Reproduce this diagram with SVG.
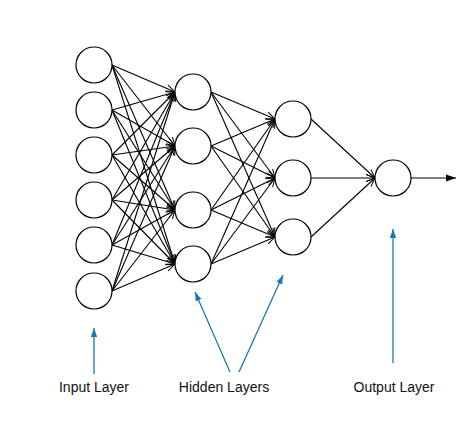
<svg xmlns="http://www.w3.org/2000/svg" width="474" height="421" viewBox="0 0 474 421">
<defs>
<marker id="open" viewBox="0 0 10 10" refX="10" refY="5" markerWidth="9" markerHeight="9" markerUnits="userSpaceOnUse" orient="auto">
<path d="M0,1 L10,5 L0,9" fill="none" stroke="#000" stroke-width="1.1"/>
</marker>
<marker id="solid" viewBox="0 0 10 10" refX="10" refY="5" markerWidth="10" markerHeight="10" markerUnits="userSpaceOnUse" orient="auto">
<path d="M0,1.5 L10,5 L0,8.5 Z" fill="#000"/>
</marker>
<marker id="blue" viewBox="0 0 10 10" refX="10" refY="5" markerWidth="9" markerHeight="9" markerUnits="userSpaceOnUse" orient="auto">
<path d="M0,1.5 L10,5 L0,8.5 Z" fill="#1b78b2"/>
</marker>
</defs>
<style>
.n{fill:#fff;stroke:#000;stroke-width:1.2}
.c line{stroke:#000;stroke-width:1.1;marker-end:url(#open)}
.b line{stroke:#1b78b2;stroke-width:1.3;marker-end:url(#blue)}
text{font-family:"Liberation Sans",Arial,sans-serif;font-size:14px;fill:#111;text-anchor:middle}
</style>
<rect width="474" height="421" fill="#fff"/>
<g id="connectors" class="c">
<!-- input to hidden1 -->
<line x1="112" y1="65" x2="175" y2="92"/><line x1="112" y1="65" x2="175" y2="146"/><line x1="112" y1="65" x2="175" y2="210"/><line x1="112" y1="65" x2="175" y2="264"/>
<line x1="112" y1="110" x2="175" y2="92"/><line x1="112" y1="110" x2="175" y2="146"/><line x1="112" y1="110" x2="175" y2="210"/><line x1="112" y1="110" x2="175" y2="264"/>
<line x1="112" y1="155" x2="175" y2="92"/><line x1="112" y1="155" x2="175" y2="146"/><line x1="112" y1="155" x2="175" y2="210"/><line x1="112" y1="155" x2="175" y2="264"/>
<line x1="112" y1="200" x2="175" y2="92"/><line x1="112" y1="200" x2="175" y2="146"/><line x1="112" y1="200" x2="175" y2="210"/><line x1="112" y1="200" x2="175" y2="264"/>
<line x1="112" y1="245" x2="175" y2="92"/><line x1="112" y1="245" x2="175" y2="146"/><line x1="112" y1="245" x2="175" y2="210"/><line x1="112" y1="245" x2="175" y2="264"/>
<line x1="112" y1="291" x2="175" y2="92"/><line x1="112" y1="291" x2="175" y2="146"/><line x1="112" y1="291" x2="175" y2="210"/><line x1="112" y1="291" x2="175" y2="264"/>
<!-- hidden1 to hidden2 -->
<line x1="211" y1="92" x2="275" y2="119"/><line x1="211" y1="92" x2="275" y2="178"/><line x1="211" y1="92" x2="275" y2="237"/>
<line x1="211" y1="146" x2="275" y2="119"/><line x1="211" y1="146" x2="275" y2="178"/><line x1="211" y1="146" x2="275" y2="237"/>
<line x1="211" y1="210" x2="275" y2="119"/><line x1="211" y1="210" x2="275" y2="178"/><line x1="211" y1="210" x2="275" y2="237"/>
<line x1="211" y1="264" x2="275" y2="119"/><line x1="211" y1="264" x2="275" y2="178"/><line x1="211" y1="264" x2="275" y2="237"/>
<!-- hidden2 to output -->
<line x1="311" y1="119" x2="375" y2="178"/><line x1="311" y1="178" x2="375" y2="178"/><line x1="311" y1="237" x2="375" y2="178"/>
<line x1="411" y1="178" x2="456" y2="178" style="marker-end:url(#solid)"/>
</g>
<g id="input-layer">
<circle class="n" cx="94" cy="65" r="18"/><circle class="n" cx="94" cy="110" r="18"/><circle class="n" cx="94" cy="155" r="18"/>
<circle class="n" cx="94" cy="200" r="18"/><circle class="n" cx="94" cy="245" r="18"/><circle class="n" cx="94" cy="291" r="18"/>
</g>
<g id="hidden-layer-1">
<circle class="n" cx="193" cy="92" r="18"/><circle class="n" cx="193" cy="146" r="18"/><circle class="n" cx="193" cy="210" r="18"/><circle class="n" cx="193" cy="264" r="18"/>
</g>
<g id="hidden-layer-2">
<circle class="n" cx="293" cy="119" r="18"/><circle class="n" cx="293" cy="178" r="18"/><circle class="n" cx="293" cy="237" r="18"/>
</g>
<g id="output-layer">
<circle class="n" cx="393" cy="178" r="18"/>
</g>
<g id="labels" class="b">
<line x1="94" y1="374" x2="94" y2="328"/>
<line x1="230" y1="372" x2="195" y2="292"/>
<line x1="239" y1="372" x2="283" y2="275"/>
<line x1="393" y1="363" x2="393" y2="229"/>
<text x="94" y="392">Input Layer</text>
<text x="224" y="392">Hidden Layers</text>
<text x="394" y="392">Output Layer</text>
</g>
</svg>
